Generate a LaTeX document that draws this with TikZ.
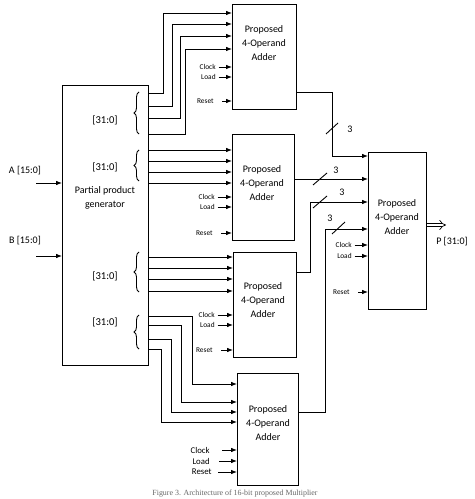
\documentclass[tikz,border=0pt]{standalone}
\usepackage{fontspec}
\setmainfont{Carlito}
\newfontfamily\capfont{Liberation Serif}
\usepackage{tikz}
\usetikzlibrary{arrows.meta,decorations.pathreplacing}
\def\fs#1{\fontsize{#1}{#1*1.35}\selectfont}

\begin{document}
\begin{tikzpicture}[x=0.02cm, y=-0.02cm,
		blk/.style={draw, line width=0.6pt, inner sep=0pt, anchor=north west},
		wire/.style={line width=0.5pt, -{Latex[length=3.4pt,width=2.6pt]}},
		txt/.style={align=center, font=\fontsize{5.7}{7.9}\selectfont},
		ctl/.style={inner sep=0pt, anchor=east, font=\fontsize{4.2}{5}\selectfont},
		bus/.style={line width=0.5pt},
		brc/.style={decorate, decoration={brace, amplitude=0.1cm}, line width=0.5pt}]
			%%%%% START %%%%%
			\useasboundingbox (0,0) rectangle (474,499);
			
			% blocks
			\node[blk, minimum width=1.72cm, minimum height=5.6cm] (ppg) at (62,85) {};
			\node[blk, minimum width=1.28cm, minimum height=2.1cm] (a1) at (232,4) {};
			\node[blk, minimum width=1.24cm, minimum height=2.12cm] (a2) at (232,134) {};
			\node[blk, minimum width=1.26cm, minimum height=2.1cm] (a3) at (233,252) {};
			\node[blk, minimum width=1.22cm, minimum height=2.24cm] (a4) at (237,373) {};
			\node[blk, minimum width=1.16cm, minimum height=3.14cm] (fin) at (368,152) {};
			
			\node[txt] (ppgtxt) at (105,198) {Partial product\\generator};
			\node[txt] (a1txt) at (264,43) {Proposed\\4-Operand\\Adder};
			\node[txt] (a2txt) at (262,183) {Proposed\\4-Operand\\Adder};
			\node[txt] (a3txt) at (263,300) {Proposed\\4-Operand\\Adder};
			\node[txt] (a4txt) at (268,423) {Proposed\\4-Operand\\Adder};
			\node[txt] (fintxt) at (397,217) {Proposed\\4-Operand\\Adder};
			
			% inputs A, B
			\node[txt] (ina) at (25,171) {A [15:0]};
			\node[txt] (inb) at (25,241) {B [15:0]};
			\coordinate (ca) at (36,183);
			\coordinate (cb) at (36,256);
			\draw[wire] (ca) -- (ppg.west |- ca);
			\draw[wire] (cb) -- (ppg.west |- cb);
			
			% partial products
			\foreach \n/\y in {p1/120,p2/167,p3/276,p4/322}
				\node[txt, font=\fontsize{6}{7}\selectfont] (\n) at (105,\y) {[31:0]};
			\draw[brc] (139,134) -- (139,92);
			\draw[brc] (139,181) -- (139,150);
			\draw[brc] (139,292) -- (139,252);
			\draw[brc] (139,349) -- (139,315);
			
			\foreach \y/\x/\t in {93/163/13,106/172/24,118/180/36,134/185/49}
				\draw[wire] (ppg.east |- 0,\y) -- (\x,\y) |- (a1.west |- 0,\t);
			\foreach \y in {150,161,172,183}
				\draw[wire] (ppg.east |- 0,\y) -- (a2.west |- 0,\y);
			\foreach \y in {257,268,279,291}
				\draw[wire] (ppg.east |- 0,\y) -- (a3.west |- 0,\y);
			\foreach \y/\x/\t in {316/192/384,325/181/402,339/171/412,349/161/422}
				\draw[wire] (ppg.east |- 0,\y) -- (\x,\y) |- (a4.west |- 0,\t);
			
			% clock, load, reset
			\foreach \b/\yc/\yl/\yr/\xe in {a1/67/77/101/216,a2/197/207/233/215,a3/315/325/350/215,fin/245/256/292/352}{
				\node[ctl] (\b c) at (\xe,\yc) {Clock};
				\node[ctl] (\b l) at (\xe,\yl) {Load};
				\node[ctl] (\b r) at (\xe-2,\yr) {Reset};
				\draw[wire] ([xshift=0.05cm]\b c.east) -- (\b.west |- \b c);
				\draw[wire] ([xshift=0.05cm]\b l.east) -- (\b.west |- \b l);
				\draw[wire] ([xshift=0.16cm]\b r.east) -- (\b.west |- \b r);
			}
			\node[ctl, font=\fontsize{5}{6}\selectfont] (a4c) at (210,450) {Clock};
			\node[ctl, font=\fontsize{5}{6}\selectfont] (a4l) at (210,461) {Load};
			\node[ctl, font=\fontsize{5}{6}\selectfont] (a4r) at (212,472) {Reset};
			\draw[wire] ([xshift=0.24cm]a4c.east) -- (a4.west |- a4c);
			\draw[wire] ([xshift=0.18cm]a4l.east) -- (a4.west |- a4l);
			\draw[wire] ([xshift=0.12cm]a4r.east) -- (a4.west |- a4r);
			
			% partial sums to the last adder
			\draw[wire] (a1.east |- 0,92) -- (332,92) |- (fin.west |- 0,156);
			\draw[wire] (a2.east |- 0,179) -- (fin.west |- 0,179);
			\draw[wire] (a3.east |- 0,272) -- (310,272) |- (fin.west |- 0,202);
			\draw[wire] (a4.east |- 0,412) -- (325,412) |- (fin.west |- 0,229);
			
			\draw[bus] (326,134) -- (338,123);
			\draw[bus] (313,185) -- (327,173);
			\draw[bus] (313,208) -- (327,196);
			\draw[bus] (332,234) -- (345,222);
			\node[txt] (w1) at (350,129) {3};
			\node[txt] (w2) at (336,170) {3};
			\node[txt] (w3) at (342,192) {3};
			\node[txt] (w4) at (330,218) {3};
			
			% output
			\coordinate (out) at (446,225);
			\draw[line width=0.4pt, double, double distance=1.6pt, -{Implies}] (fin.east |- out) -- (out);
			\node[txt] (pout) at (452,242) {P [31:0]};
			
			\node[font=\fontsize{4.5}{5}\selectfont\capfont, text=black!60] (cap) at (235,494) {Figure 3. Architecture of 16-bit proposed Multiplier};
			%%%%% END %%%%%
\end{tikzpicture}
\end{document}
